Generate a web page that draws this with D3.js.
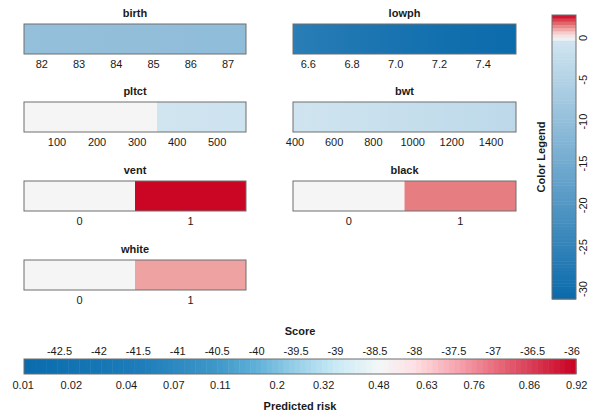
<!DOCTYPE html>
<html lang="en">
<head>
    <meta charset="UTF-8">
    <title>Score colour plot</title>
    <style>
        body { margin: 0; background: #fff; }
        text { font-family: "Liberation Sans", Arial, sans-serif; fill: #1a1a1a; }
        .ttl { font-weight: bold; font-size: 11px; }
        .tk { font-size: 11px; }
    </style>
</head>
<body>
    <div class="vis"><svg width="600" height="420"></svg></div>
    <script src="https://cdnjs.cloudflare.com/ajax/libs/d3/7.8.5/d3.min.js"></script>
    <script>
        // continuous variables: breakpoints and their score contribution
        var birthX = [81.52, 82, 83, 84, 85, 86, 87, 87.48];
        var birthScore = [-9.7, -9.8, -9.9, -10.0, -10.1, -10.3, -10.4, -10.5];
        var birthTicks = [82, 83, 84, 85, 86, 87];

        var lowphX = [6.53, 6.6, 6.8, 7.0, 7.2, 7.4, 7.55];
        var lowphScore = [-26.1, -26.8, -28.0, -29.0, -29.8, -30.5, -31.0];
        var lowphTicks = [6.6, 6.8, 7.0, 7.2, 7.4];

        var pltctX = [17.5, 100, 200, 300, 350, 350, 400, 500, 572];
        var pltctScore = [0, 0, 0, 0, 0, -0.4, -0.5, -0.7, -0.9];
        var pltctTicks = [100, 200, 300, 400, 500];

        var bwtX = [390, 400, 600, 800, 1000, 1200, 1400, 1527];
        var bwtScore = [-0.5, -0.6, -1.1, -1.6, -2.1, -2.6, -3.1, -3.5];
        var bwtTicks = [400, 600, 800, 1000, 1200, 1400];

        // binary variables
        var ventCats = ["0", "1"], ventScore = [0, 2.7];
        var blackCats = ["0", "1"], blackScore = [0, 1.55];
        var whiteCats = ["0", "1"], whiteScore = [0, 1.15];

        // colour legend
        var legendDomain = [-31.2, 2.75];
        var legendTicks = [0, -5, -10, -15, -20, -25, -30];

        // total score bar
        var scoreDomain = [-42.95, -35.95];
        var scoreTicks = [-42.5, -42, -41.5, -41, -40.5, -40, -39.5, -39, -38.5, -38, -37.5, -37, -36.5, -36];
        var riskLabels = ["0.01", "0.02", "0.04", "0.07", "0.11", "0.2", "0.32", "0.48", "0.63", "0.76", "0.86", "0.92"];
        var riskAt = [-42.96, -42.35, -41.65, -41.05, -40.46, -39.74, -39.15, -38.45, -37.84, -37.24, -36.54, -35.94];
        var barStops = [-42.95, -41.5, -40.5, -40.0, -39.5, -39.0, -38.45, -38.0, -37.5, -37.0, -36.5, -35.95];
        var barColors = ["#0a6cad", "#1d7cb9", "#3f98c9", "#60b1d8", "#98cfe8", "#c9eaf5", "#f3f7f8",
                         "#fde0e3", "#f7a9b3", "#e9707f", "#d93b54", "#c90022"];

        var svg = d3.select('.vis svg');
        var defs = svg.append('defs');

        var color = d3.scaleLinear()
            .domain([-31.2, -0.3, 0, 0.65, 1.3, 1.95, 2.75])
            .range(["#0a6aab", "#d1e5f0", "#f5f5f5", "#f6cdcb", "#eb9596", "#de5a5f", "#ca0020"])
            .clamp(true);

        var cols = [[24, 246], [293, 516]];
        var rows = [24, 102, 181, 260];
        var boxH = 30;

        var contPanels = [
            { name: 'birth', xs: birthX, sc: birthScore, ticks: birthTicks, col: 0, row: 0, fmt: d3.format('d') },
            { name: 'lowph', xs: lowphX, sc: lowphScore, ticks: lowphTicks, col: 1, row: 0, fmt: d3.format('.1f') },
            { name: 'pltct', xs: pltctX, sc: pltctScore, ticks: pltctTicks, col: 0, row: 1, fmt: d3.format('d') },
            { name: 'bwt', xs: bwtX, sc: bwtScore, ticks: bwtTicks, col: 1, row: 1, fmt: d3.format('d') }
        ];
        var catPanels = [
            { name: 'vent', cats: ventCats, sc: ventScore, col: 0, row: 2 },
            { name: 'black', cats: blackCats, sc: blackScore, col: 1, row: 2 },
            { name: 'white', cats: whiteCats, sc: whiteScore, col: 0, row: 3 }
        ];

        function title(p) {
            var c = cols[p.col];
            svg.append('text').attr('class', 'ttl')
                .attr('x', (c[0] + c[1]) / 2).attr('y', rows[p.row] - 7)
                .attr('text-anchor', 'middle').text(p.name);
        }

        contPanels.forEach(function (p) {
            var c = cols[p.col], top = rows[p.row];
            var x = d3.scaleLinear().domain([p.xs[0], p.xs[p.xs.length - 1]]).range(c);
            var grad = defs.append('linearGradient').attr('id', 'g-' + p.name)
                .attr('x1', '0%').attr('x2', '100%').attr('y1', '0%').attr('y2', '0%');
            grad.selectAll('stop')
                .data(p.xs)
                .enter()
                .append('stop')
                .attr('offset', d => (x(d) - c[0]) / (c[1] - c[0]))
                .attr('stop-color', (d, i) => color(p.sc[i]));
            svg.append('rect')
                .attr('x', c[0]).attr('y', top)
                .attr('width', c[1] - c[0]).attr('height', boxH)
                .attr('fill', 'url(#g-' + p.name + ')')
                .attr('stroke', '#6e6e6e').attr('stroke-width', 1);
            svg.selectAll('text.t-' + p.name)
                .data(p.ticks)
                .enter()
                .append('text')
                .attr('class', 'tk t-' + p.name)
                .attr('x', d => x(d)).attr('y', top + boxH + 14)
                .attr('text-anchor', 'middle')
                .text(p.fmt);
            title(p);
        });

        catPanels.forEach(function (p) {
            var c = cols[p.col], top = rows[p.row];
            var x = d3.scaleBand().domain(p.cats).range(c);
            svg.selectAll('rect.c-' + p.name)
                .data(p.cats)
                .enter()
                .append('rect')
                .attr('class', 'c-' + p.name)
                .attr('x', d => x(d)).attr('y', top)
                .attr('width', x.bandwidth()).attr('height', boxH)
                .attr('fill', (d, i) => color(p.sc[i]));
            svg.append('rect')
                .attr('x', c[0]).attr('y', top)
                .attr('width', c[1] - c[0]).attr('height', boxH)
                .attr('fill', 'none')
                .attr('stroke', '#6e6e6e').attr('stroke-width', 1);
            svg.selectAll('text.t-' + p.name)
                .data(p.cats)
                .enter()
                .append('text')
                .attr('class', 'tk t-' + p.name)
                .attr('x', d => x(d) + x.bandwidth() / 2).attr('y', top + boxH + 14)
                .attr('text-anchor', 'middle')
                .text(d => d);
            title(p);
        });

        // right colour legend
        var ly = d3.scaleLinear().domain(legendDomain).range([299, 15]);
        var nL = 90;
        var lstep = (legendDomain[1] - legendDomain[0]) / nL;
        svg.selectAll('rect.leg')
            .data(d3.range(nL))
            .enter()
            .append('rect')
            .attr('class', 'leg')
            .attr('x', 552).attr('width', 24)
            .attr('y', i => ly(legendDomain[0] + (i + 1) * lstep))
            .attr('height', i => ly(legendDomain[0] + i * lstep) - ly(legendDomain[0] + (i + 1) * lstep) + 0.5)
            .attr('fill', i => color(legendDomain[0] + (i + 0.5) * lstep));
        svg.append('rect')
            .attr('x', 552).attr('y', 15).attr('width', 24).attr('height', 284)
            .attr('fill', 'none').attr('stroke', '#6e6e6e');
        svg.selectAll('text.lt')
            .data(legendTicks)
            .enter()
            .append('text')
            .attr('class', 'tk lt')
            .attr('transform', d => `translate(583, ${ly(d)}) rotate(-90)`)
            .attr('text-anchor', 'middle').attr('dy', '0.35em')
            .text(d => d);
        svg.append('text').attr('class', 'ttl')
            .attr('transform', 'translate(541, 157) rotate(-90)')
            .attr('text-anchor', 'middle').attr('dy', '0.35em')
            .text('Color Legend');

        // score / predicted risk bar
        var sx = d3.scaleLinear().domain(scoreDomain).range([24, 576]);
        var barColor = d3.scaleLinear().domain(barStops).range(barColors);
        var nB = 100;
        var bstep = (scoreDomain[1] - scoreDomain[0]) / nB;
        svg.selectAll('rect.bar')
            .data(d3.range(nB))
            .enter()
            .append('rect')
            .attr('class', 'bar')
            .attr('x', i => sx(scoreDomain[0] + i * bstep))
            .attr('width', (576 - 24) / nB + 0.5)
            .attr('y', 359).attr('height', 15)
            .attr('fill', i => barColor(scoreDomain[0] + (i + 0.5) * bstep));
        svg.append('rect')
            .attr('x', 24).attr('y', 359).attr('width', 552).attr('height', 15)
            .attr('fill', 'none').attr('stroke', '#6e6e6e');

        svg.selectAll('text.st')
            .data(scoreTicks)
            .enter()
            .append('text')
            .attr('class', 'tk st')
            .attr('x', d => sx(d)).attr('y', 355)
            .attr('text-anchor', 'middle')
            .text(d => d);
        svg.selectAll('text.rt')
            .data(riskLabels)
            .enter()
            .append('text')
            .attr('class', 'tk rt')
            .attr('x', (d, i) => sx(riskAt[i])).attr('y', 389)
            .attr('text-anchor', 'middle')
            .text(d => d);
        svg.append('text').attr('class', 'ttl')
            .attr('x', 300).attr('y', 335).attr('text-anchor', 'middle').text('Score');
        svg.append('text').attr('class', 'ttl')
            .attr('x', 300).attr('y', 410).attr('text-anchor', 'middle').text('Predicted risk');
    </script>
</body>
</html>
